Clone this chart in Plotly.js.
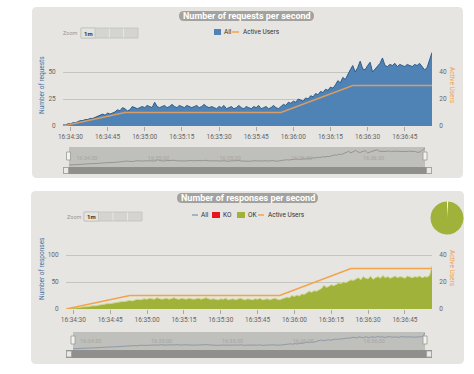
<!DOCTYPE html>
<html><head><meta charset="utf-8">
<script src="https://cdn.plot.ly/plotly-3.0.1.min.js"></script>
<style>html,body{margin:0;padding:0;background:#fff;}#chart{width:474px;height:374px;}</style>
</head><body><div id="chart"></div>
<script>
// ---------------- DATA ----------------
const START = '2024-01-01 16:34:27';
const END = '2024-01-01 16:36:56';
const STEP_MS = 1000; // one value per second
const TICK0 = '2024-01-01 16:34:30';

// Number of requests per second (All)
const requestsAll = [
  1,1,2,2,3,3,4,5,5,6,
  6,7,7,8,9,10,11,10,12,11,
  12,13,15,14,17,16,14,15,18,17,
  16,17,18,17,19,18,17,22,18,17,
  18,19,17,18,20,18,17,19,18,17,
  19,18,17,18,19,17,18,20,18,17,
  18,17,16,18,17,19,16,17,18,16,
  17,19,17,16,18,17,16,18,17,19,
  16,17,18,16,17,19,17,16,18,
  20,19,22,21,23,22,25,24,23,26,25,
  28,27,30,29,32,31,34,33,36,35,
  38,42,40,45,43,48,52,56,
  50,54,60,53,52,56,59,50,53,55,58,63,
  56,55,57,56,58,55,57,56,55,57,56,55,
  57,56,58,55,52,54,62,68
];

// Number of responses per second
const responsesOK = [
  0,1,1,2,2,3,3,4,4,5,
  5,6,6,7,8,8,9,10,10,11,
  12,12,13,14,14,15,16,15,17,18,
  17,18,19,18,20,19,18,21,19,18,
  19,20,18,19,21,19,18,20,19,18,
  20,19,18,19,20,18,19,21,19,18,
  19,18,17,19,18,20,17,18,19,17,
  18,20,18,17,19,18,17,19,18,20,
  17,18,19,17,18,20,18,17,19,
  20,22,21,25,23,26,24,28,27,30,33,
  31,34,33,36,38,44,40,42,45,43,
  46,48,47,50,49,52,54,53,
  55,58,54,60,57,56,61,55,58,60,57,62,
  58,60,57,59,61,58,60,59,57,61,60,58,
  60,59,61,58,60,59,62,80
];
const koTimes = ['2024-01-01 16:34:27', '2024-01-01 16:36:56'];
const responsesKO = [0, 0];
const responsesAll = responsesOK; // no KO responses, so All equals OK

// Active users (vertices of the line)
const userTimesReq = ['2024-01-01 16:34:27','2024-01-01 16:34:52','2024-01-01 16:35:55','2024-01-01 16:36:24','2024-01-01 16:36:56'];
const userTimesResp = ['2024-01-01 16:34:27','2024-01-01 16:34:53','2024-01-01 16:35:54','2024-01-01 16:36:23','2024-01-01 16:36:56'];
const userValues = [0, 10, 10, 30, 30];

// Pie: share of OK / KO responses
const pieLabels = ['KO', 'OK'];
const pieValues = [1.2, 98.8];

// Axis tick labels
const reqTickVals = [0, 25, 50, 75];
const reqTickText = ['0', '25', '50', ''];
const respTickVals = [0, 50, 100, 150];
const respTickText = ['0', '50', '100', ''];
const userTickVals = [0, 20, 40, 60];
const userTickText = ['0', '20', '40', ''];

// ---------------- STYLE / LAYOUT ----------------
const W = 474, H = 374;
const px = x => x / W;
const py = y => 1 - y / H;
const FONT = 'Roboto, "DejaVu Sans", sans-serif';
const BLUE = '#5083b5', BLUE_LINE = '#2d5b8a';
const GREEN = '#a0b23a', ORANGE = '#f5a24a', RED = '#e8141e';
const PANEL = '#e6e5e1', GRID = '#c4c4c0', TICKC = '#666';

function rect(x0, y0, x1, y1, fill, lineColor, layer) {
  return {type:'rect', xref:'paper', yref:'paper', x0:px(x0), x1:px(x1), y0:py(y1), y1:py(y0),
    fillcolor:fill, line:{width: lineColor ? 0.8 : 0, color: lineColor || 'rgba(0,0,0,0)'}, layer: layer || 'below'};
}
function rrect(x0, y0, x1, y1, r, fill, layer) {
  const P = (x, y) => px(x).toFixed(5) + ',' + py(y).toFixed(5);
  const path = 'M' + P(x0 + r, y0) + ' L' + P(x1 - r, y0) + ' Q' + P(x1, y0) + ' ' + P(x1, y0 + r) +
    ' L' + P(x1, y1 - r) + ' Q' + P(x1, y1) + ' ' + P(x1 - r, y1) +
    ' L' + P(x0 + r, y1) + ' Q' + P(x0, y1) + ' ' + P(x0, y1 - r) +
    ' L' + P(x0, y0 + r) + ' Q' + P(x0, y0) + ' ' + P(x0 + r, y0) + ' Z';
  return {type:'path', xref:'paper', yref:'paper', path, fillcolor:fill, line:{width:0}, layer: layer || 'below'};
}
function hline(x0, x1, y, color, width) {
  return {type:'line', xref:'paper', yref:'paper', x0:px(x0), x1:px(x1), y0:py(y), y1:py(y),
    line:{color, width: width || 1}, layer:'above'};
}
function vline(x, y0, y1, color, width) {
  return {type:'line', xref:'paper', yref:'paper', x0:px(x), x1:px(x), y0:py(y0), y1:py(y1),
    line:{color, width: width || 1}, layer:'above'};
}
function txt(x, y, text, size, color, opt) {
  return Object.assign({xref:'paper', yref:'paper', x:px(x), y:py(y), text, showarrow:false,
    font:{family:FONT, size, color}, xanchor:'left', yanchor:'middle', borderpad:0}, opt || {});
}

const shapes = [
  // panels
  rrect(32, 7, 463, 178, 5, PANEL),
  rrect(31, 191, 464, 364, 5, PANEL),
  // title pills
  rrect(179, 11, 314, 21, 5, '#a3a29e'),
  rrect(177, 193, 318, 203, 5, '#a3a29e'),
  // zoom button groups
  rect(81, 28, 138, 38, '#d4d4d0', '#c2c2be'),
  rect(81, 28, 95, 38, '#e3e3df', '#c2c2be'),
  vline(109.3, 28.5, 37.5, '#ecece8', 0.8), vline(123.6, 28.5, 37.5, '#ecece8', 0.8),
  rect(84, 212, 142, 221, '#d4d4d0', '#c2c2be'),
  rect(84, 212, 98.5, 221, '#e3e3df', '#c2c2be'),
  vline(113, 212.5, 220.5, '#ecece8', 0.8), vline(127.5, 212.5, 220.5, '#ecece8', 0.8),
  // top legend
  rect(214, 29, 221, 35, BLUE, null, 'above'),
  hline(232, 239, 32, ORANGE, 1.5),
  // bottom legend
  hline(192, 198, 215, '#8ea2b8', 1.5),
  rect(212, 212, 220, 218, RED, null, 'above'),
  rect(237, 212, 245, 218, GREEN, null, 'above'),
  hline(258, 264, 215, ORANGE, 1.5),
  // top navigator
  rect(69, 147, 425, 167, '#bfbfbb'),
  rect(63, 167, 432, 174, '#8f8f8b'),
  rect(63.5, 167.5, 68.5, 173.5, '#e9e9e6', '#a0a09c', 'above'),
  rect(426.5, 167.5, 431.5, 173.5, '#e9e9e6', '#a0a09c', 'above'),
  rect(66.5, 152, 70.5, 160, '#f2f2f0', '#9a9a96', 'above'),
  rect(423, 152, 427, 160, '#f2f2f0', '#9a9a96', 'above'),
  // bottom navigator
  rect(73, 332, 425, 350, '#bfbfbb'),
  rect(66, 350, 432, 358, '#8f8f8b'),
  rect(66.5, 351, 71.5, 357, '#e9e9e6', '#a0a09c', 'above'),
  rect(426.5, 351, 431.5, 357, '#e9e9e6', '#a0a09c', 'above'),
  rect(71, 336, 75, 344, '#f2f2f0', '#9a9a96', 'above'),
  rect(423, 336, 427, 344, '#f2f2f0', '#9a9a96', 'above')
];

const annotations = [
  txt(247, 16, '<b>Number of requests per second</b>', 9, '#ffffff', {xanchor:'center'}),
  txt(247.5, 198, '<b>Number of responses per second</b>', 9, '#ffffff', {xanchor:'center'}),
  txt(62, 33, 'Zoom', 5.5, '#999'),
  txt(88, 33, '<b>1m</b>', 6, '#333', {xanchor:'center'}),
  txt(66, 217, 'Zoom', 5.5, '#999'),
  txt(91, 216.5, '<b>1m</b>', 6, '#333', {xanchor:'center'}),
  // top legend texts
  txt(223, 32, 'All', 6.5, '#333'),
  txt(242, 32, 'Active Users', 6.5, '#333'),
  // bottom legend texts
  txt(200, 215, 'All', 6.5, '#333'),
  txt(222, 215, 'KO', 6.5, '#333'),
  txt(247, 215, 'OK', 6.5, '#333'),
  txt(267, 215, 'Active Users', 6.5, '#333'),
  // axis titles
  txt(41.5, 85.5, 'Number of requests', 6.5, '#4572A7', {xanchor:'center', textangle:-90}),
  txt(452.5, 85.5, 'Active Users', 6.5, ORANGE, {xanchor:'center', textangle:90}),
  txt(41.5, 268.5, 'Number of responses', 6.5, '#4572A7', {xanchor:'center', textangle:-90}),
  txt(452.5, 268.5, 'Active Users', 6.5, ORANGE, {xanchor:'center', textangle:90})
];

const tickFont = {family:FONT, size:6.5, color:TICKC};
const navFont = {family:FONT, size:5.5, color:'#a6a6a2'};

function mainX(x0, x1, anchor) {
  return {domain:[px(x0), px(x1)], anchor, type:'date', range:[START, END], tick0:TICK0, dtick:15000,
    tickformat:'%H:%M:%S', ticks:'outside', ticklen:4, tickcolor:'#a8a8a4', tickfont:tickFont,
    showgrid:false, zeroline:false, showline:false, fixedrange:true};
}
function navX(x0, x1, anchor) {
  return {domain:[px(x0), px(x1)], anchor, type:'date', range:[START, END], tick0:TICK0, dtick:30000,
    tickformat:'%H:%M:%S', ticks:'', ticklabelposition:'inside right', tickfont:navFont,
    showgrid:false, zeroline:false, showline:false, fixedrange:true};
}
function leftY(y0, y1, range, vals, text, anchor) {
  return {domain:[py(y1), py(y0)], anchor, range, tickvals:vals, ticktext:text, gridcolor:GRID, gridwidth:1,
    ticks:'outside', ticklen:5, tickcolor:'rgba(0,0,0,0)', tickfont:tickFont, zeroline:false, showline:false, fixedrange:true};
}
function rightY(over, range, anchor) {
  return {overlaying:over, side:'right', anchor, range, tickvals:userTickVals, ticktext:userTickText, showgrid:false,
    ticks:'outside', ticklen:5, tickcolor:'rgba(0,0,0,0)', tickfont:tickFont, zeroline:false, showline:false, fixedrange:true};
}

const traces = [
  // top chart
  {type:'scatter', mode:'lines', name:'All', x0:START, dx:STEP_MS, y:requestsAll, xaxis:'x', yaxis:'y',
    fill:'tozeroy', fillcolor:BLUE, line:{color:BLUE_LINE, width:1}, showlegend:false},
  {type:'scatter', mode:'lines', name:'Active Users', x:userTimesReq, y:userValues, xaxis:'x', yaxis:'y2',
    line:{color:'rgba(232,160,90,0.9)', width:1.5}, showlegend:false},
  {type:'scatter', mode:'lines', name:'All (navigator)', x0:START, dx:STEP_MS, y:requestsAll, xaxis:'x2', yaxis:'y3',
    line:{color:'#8a8a86', width:0.8}, showlegend:false, hoverinfo:'skip'},
  // bottom chart
  {type:'scatter', mode:'lines', name:'OK', x0:START, dx:STEP_MS, y:responsesOK, xaxis:'x3', yaxis:'y4',
    fill:'tozeroy', fillcolor:GREEN, line:{color:'#cfd98f', width:1}, showlegend:false},
  {type:'scatter', mode:'lines', name:'KO', x:koTimes, y:responsesKO, xaxis:'x3', yaxis:'y4',
    fill:'tozeroy', fillcolor:RED, line:{width:0, color:RED}, showlegend:false},
  {type:'scatter', mode:'lines', name:'Active Users', x:userTimesResp, y:userValues, xaxis:'x3', yaxis:'y5',
    line:{color:ORANGE, width:1.5}, showlegend:false},
  {type:'scatter', mode:'lines', name:'All (navigator)', x0:START, dx:STEP_MS, y:responsesAll, xaxis:'x4', yaxis:'y6',
    line:{color:'#8290a4', width:0.8}, showlegend:false, hoverinfo:'skip'},
  // pie
  {type:'pie', labels:pieLabels, values:pieValues, sort:false, direction:'clockwise', rotation:0,
    marker:{colors:['#ffffff', GREEN], line:{width:0}}, textinfo:'none', hoverinfo:'label+percent',
    domain:{x:[px(430.5), px(463.5)], y:[py(234.5), py(201.5)]}, showlegend:false}
];

const layout = {
  width:W, height:H, margin:{l:0, r:0, t:0, b:0, autoexpand:false},
  paper_bgcolor:'#ffffff', plot_bgcolor:'rgba(0,0,0,0)',
  font:{family:FONT, size:6.5, color:TICKC},
  showlegend:false, hovermode:'closest',
  xaxis: mainX(63, 432, 'y'),
  yaxis: leftY(45, 126, [0, 75], reqTickVals, reqTickText, 'x'),
  yaxis2: rightY('y', [0, 60], 'x'),
  xaxis2: navX(69, 425, 'y3'),
  yaxis3: {domain:[py(167), py(147)], anchor:'x2', range:[-7.3, 73.7], visible:false, fixedrange:true},
  xaxis3: mainX(66, 432, 'y4'),
  yaxis4: leftY(228, 309, [0, 150], respTickVals, respTickText, 'x3'),
  yaxis5: rightY('y4', [0, 60], 'x3'),
  xaxis4: navX(73, 425, 'y6'),
  yaxis6: {domain:[py(350), py(332)], anchor:'x4', range:[-6, 84], visible:false, fixedrange:true},
  shapes, annotations
};

Plotly.newPlot('chart', traces, layout, {displayModeBar:false, staticPlot:false, responsive:false});
</script></body></html>
